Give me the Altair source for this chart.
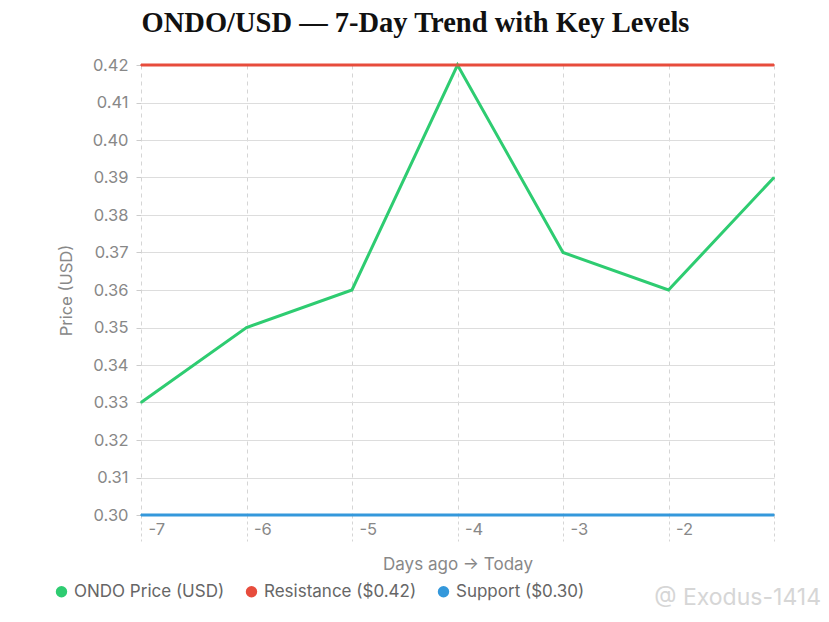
import altair as alt
import pandas as pd

days = [-7, -6, -5, -4, -3, -2, -1]
price = [0.33, 0.35, 0.36, 0.42, 0.37, 0.36, 0.39]
resistance = 0.42
support = 0.30
series_names = ["ONDO Price (USD)", "Resistance ($0.42)", "Support ($0.30)"]
series_colors = ["#2ecc71", "#e74c3c", "#3498db"]
y_ticks = [0.30, 0.31, 0.32, 0.33, 0.34, 0.35, 0.36, 0.37, 0.38, 0.39, 0.40, 0.41, 0.42]

rows = []
for d, p in zip(days, price):
    rows.append({"day": d, "value": p, "series": series_names[0], "order": 0})
for d in days:
    rows.append({"day": d, "value": resistance, "series": series_names[1], "order": 1})
for d in days:
    rows.append({"day": d, "value": support, "series": series_names[2], "order": 2})
df = pd.DataFrame(rows)

x_enc = alt.X("day:Q", title="Days ago → Today",
              scale=alt.Scale(domain=[-7, -1], nice=False, zero=False),
              axis=alt.Axis(values=days,
                            labelExpr="datum.value == -1 ? '' : '' + datum.value",
                            gridDash=[4, 4], gridColor="#d5d5d5", tickDash=[3, 3],
                            tickColor="#d5d5d5", tickSize=26, labelPadding=-20,
                            labelAlign="left", labelOffset=7, domain=False, titlePadding=15,
                            titleFontSize=17))
y_enc = alt.Y("value:Q", title="Price (USD)",
              scale=alt.Scale(domain=[0.30, 0.42], nice=False, zero=False),
              axis=alt.Axis(values=y_ticks, format=".2f", gridColor="#dddddd",
                            tickColor="#cccccc", tickSize=5, labelPadding=8,
                            domain=False, titlePadding=18))

lines = alt.Chart(df).mark_line(strokeWidth=3, clip=False).encode(
    x=x_enc, y=y_enc,
    color=alt.Color("series:N", sort=series_names,
                    scale=alt.Scale(domain=series_names, range=series_colors), legend=None),
    order=alt.Order("order:Q", sort="descending"),
    detail="series:N",
)

legend_pts = alt.Chart(df).mark_circle(size=4).encode(
    x=x_enc, y=y_enc,
    color=alt.Color("series:N", sort=series_names,
                    scale=alt.Scale(domain=series_names, range=series_colors),
                    legend=alt.Legend(orient="none", legendX=-88, legendY=518,
                                      title=None, symbolType="circle",
                                      symbolSize=130, symbolOpacity=1,
                                      labelFontSize=17, labelColor="#666666",
                                      labelFont="Inter", direction="horizontal",
                                      columnPadding=18)),
)

watermark = alt.Chart(pd.DataFrame({"t": ["@ Exodus-1414"]})).mark_text(
    align="right", baseline="middle", fontSize=23, color="#d6d6d6", font="Inter"
).encode(text="t:N", x=alt.value(680), y=alt.value(533))

chart = alt.layer(lines, legend_pts, watermark).resolve_scale(color="independent").properties(
    width=633, height=450,
    padding={"left": 45, "top": 0, "right": 0, "bottom": 0},
    title=alt.TitleParams("ONDO/USD — 7-Day Trend with Key Levels",
                          font="Liberation Serif", fontSize=28.5, fontWeight="bold",
                          color="#111111", anchor="middle", frame="group",
                          offset=20, dx=-42),
).configure_axis(
    labelFont="Inter", labelFontSize=16.5, labelColor="#888888",
    titleFont="Inter", titleFontSize=16.5, titleColor="#888888", titleFontWeight="normal",
).configure_view(stroke=None)

chart.save("out.html", embed_options={"renderer": "svg", "actions": False})
